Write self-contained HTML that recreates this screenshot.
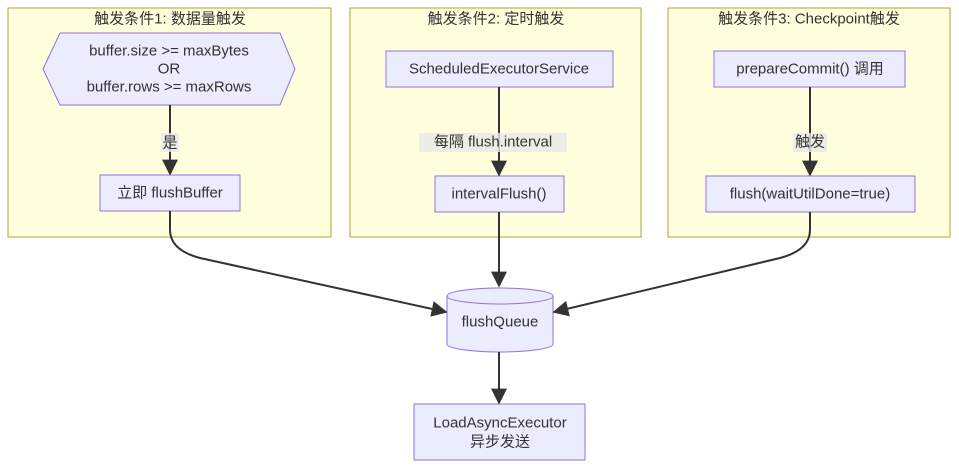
<!DOCTYPE html>
<html><head><meta charset="utf-8"><style>
body{margin:0;background:#fff}
text{font-family:"Liberation Sans","Noto Sans CJK SC",sans-serif;font-size:15px;fill:#333;text-anchor:middle;dominant-baseline:central}
</style></head><body>
<svg width="959" height="468" viewBox="0 0 959 468" xmlns="http://www.w3.org/2000/svg">
<defs><marker id="a" viewBox="0 0 10 10" refX="9" refY="5" markerWidth="8" markerHeight="8" orient="auto"><path d="M0,0L10,5L0,10z" fill="#333"/></marker></defs>
<g fill="#ffffde" stroke="#aaaa33">
<rect x="8" y="8" width="323" height="229"/>
<rect x="350" y="8" width="291" height="229"/>
<rect x="668" y="8" width="282" height="229"/>
</g>
<text x="170" y="19">触发条件1: 数据量触发</text>
<text x="496" y="19">触发条件2: 定时触发</text>
<text x="809" y="19">触发条件3: Checkpoint触发</text>
<g fill="#ececff" stroke="#9370db">
<polygon points="43,69 60,33 280,33 295,69 280,105 60,105"/>
<rect x="100" y="175" width="140" height="36"/>
<rect x="386" y="51" width="227" height="36"/>
<rect x="435" y="176" width="129" height="36"/>
<rect x="714" y="51" width="191" height="36"/>
<rect x="706" y="176" width="209" height="36"/>
<path d="M447,296 a53,8 0 0 1 106,0 v48 a53,8 0 0 1 -106,0 z"/>
<path d="M447,296 a53,8 0 0 0 106,0" fill="none"/>
<rect x="414" y="404" width="171" height="56"/>
</g>
<g stroke="#333" stroke-width="2" fill="none" marker-end="url(#a)">
<path d="M170,105 V174"/>
<path d="M499,87 V175"/>
<path d="M810,87 V175"/>
<path d="M170,211 V230 Q170,250 200,258 L446,312"/>
<path d="M499,212 V286"/>
<path d="M810,212 V230 Q810,250 780,258 L554,312"/>
<path d="M499,352 V403"/>
</g>
<rect x="161" y="133" width="18" height="19" fill="#e8e8e8" opacity=".8"/>
<rect x="419" y="133" width="148" height="19" fill="#e8e8e8" opacity=".8"/>
<rect x="793" y="133" width="34" height="19" fill="#e8e8e8" opacity=".8"/>
<text x="170" y="143">是</text>
<text x="493" y="142">每隔 flush.interval</text>
<text x="810" y="142">触发</text>
<text x="169" y="51">buffer.size &gt;= maxBytes</text>
<text x="169" y="69">OR</text>
<text x="169" y="87">buffer.rows &gt;= maxRows</text>
<text x="170" y="193">立即 flushBuffer</text>
<text x="499" y="69">ScheduledExecutorService</text>
<text x="499" y="194">intervalFlush()</text>
<text x="810" y="69">prepareCommit() 调用</text>
<text x="810" y="194">flush(waitUtilDone=true)</text>
<text x="500" y="322">flushQueue</text>
<text x="500" y="423">LoadAsyncExecutor</text>
<text x="500" y="442">异步发送</text>
</svg>
</body></html>
